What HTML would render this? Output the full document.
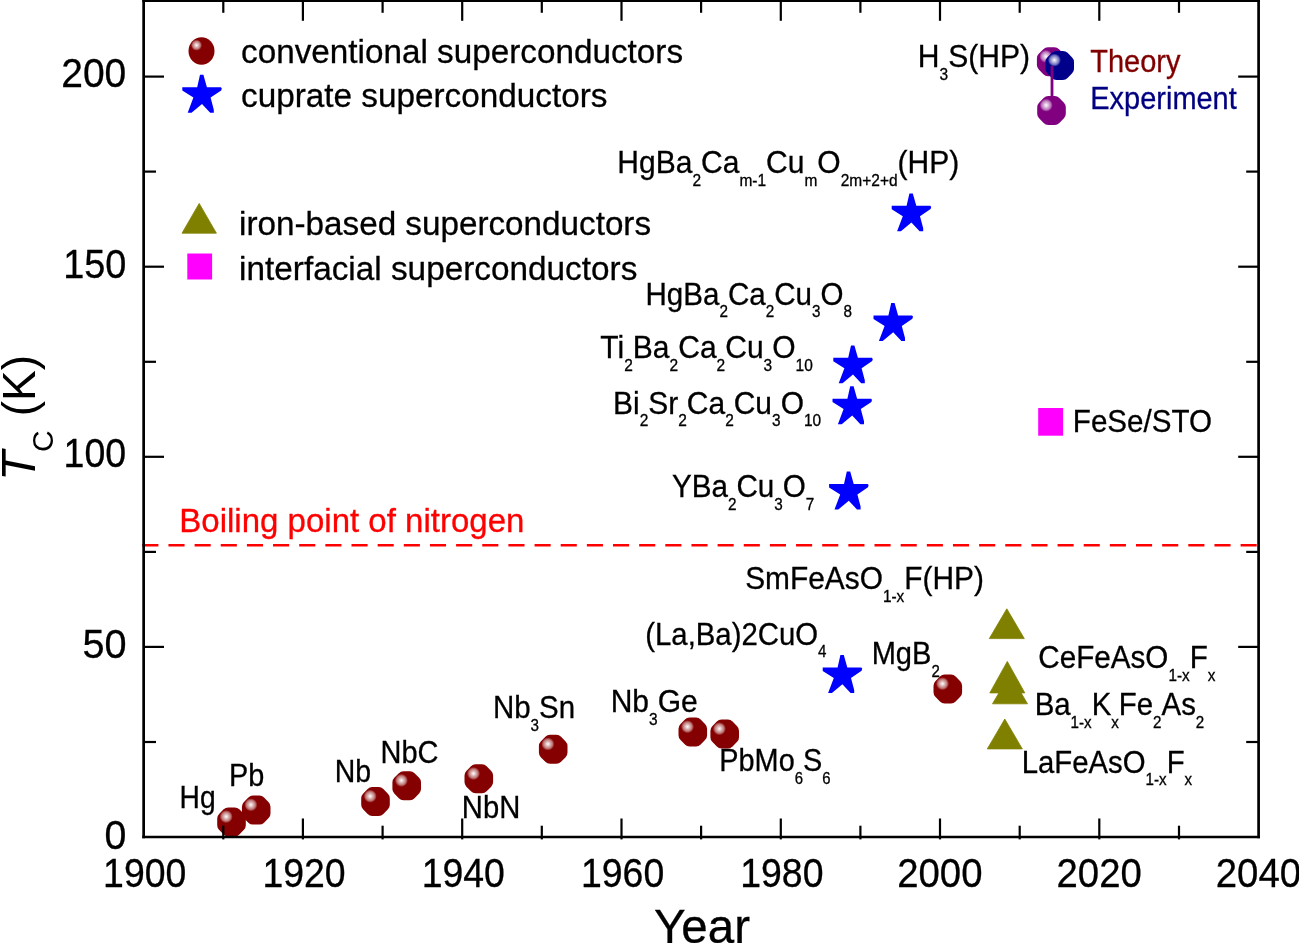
<!DOCTYPE html>
<html lang="en"><head><meta charset="utf-8"><title>Superconductor Tc timeline</title>
<style>html,body{margin:0;padding:0;background:#fff}svg{display:block}</style></head>
<body>
<svg width="1299" height="943" viewBox="0 0 1299 943" font-family='"Liberation Sans", sans-serif'>
<defs><radialGradient id="hl"><stop offset="0" stop-color="#fff" stop-opacity="1"/><stop offset="0.25" stop-color="#fff" stop-opacity="0.8"/><stop offset="0.7" stop-color="#fff" stop-opacity="0.45"/><stop offset="1" stop-color="#fff" stop-opacity="0"/></radialGradient></defs>
<rect width="1299" height="943" fill="#fff"/>
<line x1="142.3" y1="545.3" x2="1257.5" y2="545.3" stroke="#ff0000" stroke-width="2.5" stroke-dasharray="16.1 10.05"/>
<g><polygon points="228.3,813.9 234.7,813.9 239.3,818.6 239.3,825.2 234.7,829.9 228.3,829.9 223.7,825.2 223.7,818.6" fill="#850000" stroke="#850000" stroke-width="13" stroke-linejoin="round"/><circle cx="226.2" cy="816.6" r="6.6" fill="url(#hl)"/><polygon points="253.0,802.1 259.4,802.1 264.0,806.8 264.0,813.4 259.4,818.1 253.0,818.1 248.4,813.4 248.4,806.8" fill="#850000" stroke="#850000" stroke-width="13" stroke-linejoin="round"/><circle cx="250.9" cy="804.8" r="6.6" fill="url(#hl)"/><polygon points="372.3,793.5 378.7,793.5 383.3,798.2 383.3,804.8 378.7,809.5 372.3,809.5 367.7,804.8 367.7,798.2" fill="#850000" stroke="#850000" stroke-width="13" stroke-linejoin="round"/><circle cx="370.2" cy="796.2" r="6.6" fill="url(#hl)"/><polygon points="403.5,777.7 409.9,777.7 414.5,782.4 414.5,789.0 409.9,793.7 403.5,793.7 398.9,789.0 398.9,782.4" fill="#850000" stroke="#850000" stroke-width="13" stroke-linejoin="round"/><circle cx="401.4" cy="780.4" r="6.6" fill="url(#hl)"/><polygon points="475.6,770.8 482.0,770.8 486.6,775.5 486.6,782.1 482.0,786.8 475.6,786.8 471.0,782.1 471.0,775.5" fill="#850000" stroke="#850000" stroke-width="13" stroke-linejoin="round"/><circle cx="473.5" cy="773.5" r="6.6" fill="url(#hl)"/><polygon points="550.0,741.3 556.4,741.3 561.0,746.0 561.0,752.6 556.4,757.3 550.0,757.3 545.4,752.6 545.4,746.0" fill="#850000" stroke="#850000" stroke-width="13" stroke-linejoin="round"/><circle cx="547.9" cy="744.0" r="6.6" fill="url(#hl)"/><polygon points="689.6,724.0 696.0,724.0 700.6,728.7 700.6,735.3 696.0,740.0 689.6,740.0 685.0,735.3 685.0,728.7" fill="#850000" stroke="#850000" stroke-width="13" stroke-linejoin="round"/><circle cx="687.5" cy="726.7" r="6.6" fill="url(#hl)"/><polygon points="721.5,726.0 727.9,726.0 732.5,730.7 732.5,737.3 727.9,742.0 721.5,742.0 716.9,737.3 716.9,730.7" fill="#850000" stroke="#850000" stroke-width="13" stroke-linejoin="round"/><circle cx="719.4" cy="728.7" r="6.6" fill="url(#hl)"/><polygon points="944.6,681.0 951.0,681.0 955.6,685.7 955.6,692.3 951.0,697.0 944.6,697.0 940.0,692.3 940.0,685.7" fill="#850000" stroke="#850000" stroke-width="13" stroke-linejoin="round"/><circle cx="942.5" cy="683.7" r="6.6" fill="url(#hl)"/></g>
<ellipse cx="201.5" cy="51" rx="13" ry="13.8" fill="#850000"/><circle cx="196.5" cy="45.2" r="5.6" fill="url(#hl)"/><g><polygon points="200.0,74.8 203.4,74.8 206.9,87.2 220.8,87.2 221.8,88.3 221.2,90.5 210.6,97.6 213.8,109.7 213.8,112.7 210.2,112.7 202.0,104.0 191.5,112.7 187.7,112.7 193.4,97.6 182.3,90.6 182.3,87.2 197.2,87.2" fill="#0000ff"/><polygon points="909.4,193.4 912.8,193.4 916.3,205.8 930.2,205.8 931.2,206.9 930.6,209.1 920.0,216.2 923.2,228.3 923.2,231.3 919.6,231.3 911.4,222.6 900.9,231.3 897.1,231.3 902.8,216.2 891.7,209.2 891.7,205.8 906.6,205.8" fill="#0000ff"/><polygon points="891.2,303.1 894.6,303.1 898.1,315.5 912.0,315.5 913.0,316.6 912.4,318.8 901.8,325.9 905.0,338.0 905.0,341.0 901.4,341.0 893.2,332.3 882.7,341.0 878.9,341.0 884.6,325.9 873.5,318.9 873.5,315.5 888.4,315.5" fill="#0000ff"/><polygon points="851.0,345.4 854.4,345.4 857.9,357.8 871.8,357.8 872.8,358.9 872.2,361.1 861.6,368.2 864.8,380.3 864.8,383.3 861.2,383.3 853.0,374.6 842.5,383.3 838.7,383.3 844.4,368.2 833.3,361.2 833.3,357.8 848.2,357.8" fill="#0000ff"/><polygon points="850.2,386.3 853.6,386.3 857.1,398.7 871.0,398.7 872.0,399.8 871.4,402.0 860.8,409.1 864.0,421.2 864.0,424.2 860.4,424.2 852.2,415.5 841.7,424.2 837.9,424.2 843.6,409.1 832.5,402.1 832.5,398.7 847.4,398.7" fill="#0000ff"/><polygon points="846.8,471.6 850.2,471.6 853.7,484.0 867.6,484.0 868.6,485.1 868.0,487.3 857.4,494.4 860.6,506.5 860.6,509.5 857.0,509.5 848.8,500.8 838.3,509.5 834.5,509.5 840.2,494.4 829.1,487.4 829.1,484.0 844.0,484.0" fill="#0000ff"/><polygon points="840.4,655.1 843.8,655.1 847.3,667.5 861.2,667.5 862.2,668.6 861.6,670.8 851.0,677.9 854.2,690.0 854.2,693.0 850.6,693.0 842.4,684.3 831.9,693.0 828.1,693.0 833.8,677.9 822.7,670.9 822.7,667.5 837.6,667.5" fill="#0000ff"/></g>
<g><polygon points="199.2,203.4 216.4,233.2 182.0,233.2" fill="#808000" stroke="#808000" stroke-width="0.8"/><polygon points="1006.8,608.8 1024.3,638.6 989.3,638.6" fill="#808000" stroke="#808000" stroke-width="0.8"/><polygon points="1007.3,661.4 1024.8,692.9 989.8,692.9" fill="#808000" stroke="#808000" stroke-width="0.8"/><polygon points="1010.0,674.0 1027.5,703.8 992.5,703.8" fill="#808000" stroke="#808000" stroke-width="0.8"/><polygon points="1004.8,719.0 1022.3,748.9 987.3,748.9" fill="#808000" stroke="#808000" stroke-width="0.8"/></g>
<rect x="187.3" y="253.5" width="24.8" height="26" fill="#ff00ff"/><rect x="1038.2" y="408.0" width="24.9" height="27.7" fill="#ff00ff"/>
<polygon points="1048.0,53.7 1054.4,53.7 1059.0,58.4 1059.0,65.0 1054.4,69.7 1048.0,69.7 1043.4,65.0 1043.4,58.4" fill="#800080" stroke="#800080" stroke-width="13" stroke-linejoin="round"/><circle cx="1045.9" cy="56.4" r="6.6" fill="url(#hl)"/><polygon points="1056.5,57.4 1062.9,57.4 1067.5,62.1 1067.5,68.7 1062.9,73.4 1056.5,73.4 1051.9,68.7 1051.9,62.1" fill="#00008b" stroke="#00008b" stroke-width="13" stroke-linejoin="round"/><circle cx="1054.4" cy="60.1" r="6.6" fill="url(#hl)"/><line x1="1052" y1="66" x2="1052" y2="100" stroke="#800080" stroke-width="2.8"/><polygon points="1048.3,102.5 1054.7,102.5 1059.3,107.2 1059.3,113.8 1054.7,118.5 1048.3,118.5 1043.7,113.8 1043.7,107.2" fill="#800080" stroke="#800080" stroke-width="13" stroke-linejoin="round"/><circle cx="1046.2" cy="105.2" r="6.6" fill="url(#hl)"/>
<g stroke="#000" stroke-width="2.7" fill="none" stroke-linecap="butt"><line x1="143.65" y1="-1" x2="143.65" y2="838.35"/><line x1="1258.6" y1="-1" x2="1258.6" y2="838.35"/><line x1="142.3" y1="837.0" x2="1259.95" y2="837.0"/><line x1="142.3" y1="0.6" x2="1259.95" y2="0.6"/></g>
<g stroke="#000" stroke-width="2.2"><line x1="223.3" y1="839.4" x2="223.3" y2="825.7"/><line x1="223.3" y1="0" x2="223.3" y2="12.8"/><line x1="302.9" y1="839.4" x2="302.9" y2="818.5"/><line x1="302.9" y1="0" x2="302.9" y2="20.8"/><line x1="382.6" y1="839.4" x2="382.6" y2="825.7"/><line x1="382.6" y1="0" x2="382.6" y2="12.8"/><line x1="462.2" y1="839.4" x2="462.2" y2="818.5"/><line x1="462.2" y1="0" x2="462.2" y2="20.8"/><line x1="541.8" y1="839.4" x2="541.8" y2="825.7"/><line x1="541.8" y1="0" x2="541.8" y2="12.8"/><line x1="621.5" y1="839.4" x2="621.5" y2="818.5"/><line x1="621.5" y1="0" x2="621.5" y2="20.8"/><line x1="701.1" y1="839.4" x2="701.1" y2="825.7"/><line x1="701.1" y1="0" x2="701.1" y2="12.8"/><line x1="780.8" y1="839.4" x2="780.8" y2="818.5"/><line x1="780.8" y1="0" x2="780.8" y2="20.8"/><line x1="860.4" y1="839.4" x2="860.4" y2="825.7"/><line x1="860.4" y1="0" x2="860.4" y2="12.8"/><line x1="940.0" y1="839.4" x2="940.0" y2="818.5"/><line x1="940.0" y1="0" x2="940.0" y2="20.8"/><line x1="1019.7" y1="839.4" x2="1019.7" y2="825.7"/><line x1="1019.7" y1="0" x2="1019.7" y2="12.8"/><line x1="1099.3" y1="839.4" x2="1099.3" y2="818.5"/><line x1="1099.3" y1="0" x2="1099.3" y2="20.8"/><line x1="1179.0" y1="839.4" x2="1179.0" y2="825.7"/><line x1="1179.0" y1="0" x2="1179.0" y2="12.8"/><line x1="143.65" y1="742.0" x2="156.0" y2="742.0"/><line x1="1258.6" y1="742.0" x2="1246.2" y2="742.0"/><line x1="143.65" y1="646.9" x2="164.0" y2="646.9"/><line x1="1258.6" y1="646.9" x2="1238.2" y2="646.9"/><line x1="143.65" y1="551.9" x2="156.0" y2="551.9"/><line x1="1258.6" y1="551.9" x2="1246.2" y2="551.9"/><line x1="143.65" y1="456.8" x2="164.0" y2="456.8"/><line x1="1258.6" y1="456.8" x2="1238.2" y2="456.8"/><line x1="143.65" y1="361.8" x2="156.0" y2="361.8"/><line x1="1258.6" y1="361.8" x2="1246.2" y2="361.8"/><line x1="143.65" y1="266.7" x2="164.0" y2="266.7"/><line x1="1258.6" y1="266.7" x2="1238.2" y2="266.7"/><line x1="143.65" y1="171.6" x2="156.0" y2="171.6"/><line x1="1258.6" y1="171.6" x2="1246.2" y2="171.6"/><line x1="143.65" y1="76.6" x2="164.0" y2="76.6"/><line x1="1258.6" y1="76.6" x2="1238.2" y2="76.6"/></g>
<g transform="translate(241.04,62.80) scale(1.0086,1.0)"><text font-size="33" fill="#000" stroke="#000" stroke-width="0.3">conventional superconductors</text></g>
<g transform="translate(241.04,107.40) scale(1.0091,1.0)"><text font-size="33" fill="#000" stroke="#000" stroke-width="0.3">cuprate superconductors</text></g>
<g transform="translate(239.08,235.00) scale(1.0076,1.0)"><text font-size="33" fill="#000" stroke="#000" stroke-width="0.3">iron-based superconductors</text></g>
<g transform="translate(239.08,279.60) scale(1.0101,1.0)"><text font-size="33" fill="#000" stroke="#000" stroke-width="0.3">interfacial superconductors</text></g>
<g transform="translate(917.87,67.00) scale(0.9708,1.04)"><text font-size="31" fill="#000" stroke="#000" stroke-width="0.3">H<tspan dy="12.3" font-size="16">3</tspan><tspan dy="-12.3">S(HP)</tspan></text></g>
<g transform="translate(1090.23,72.00) scale(0.9354,1.009)"><text font-size="31" fill="#800000" stroke="#800000" stroke-width="0.3">Theory</text></g>
<g transform="translate(1090.26,109.40) scale(0.9348,1.005)"><text font-size="31" fill="#000080" stroke="#000080" stroke-width="0.3">Experiment</text></g>
<g transform="translate(617.28,173.30) scale(0.9689,1.032)"><text font-size="31" fill="#000" stroke="#000" stroke-width="0.3">HgBa<tspan dy="12.3" font-size="16">2</tspan><tspan dy="-12.3">Ca</tspan><tspan dy="12.3" font-size="16">m-1</tspan><tspan dy="-12.3">Cu</tspan><tspan dy="12.3" font-size="16">m</tspan><tspan dy="-12.3">O</tspan><tspan dy="12.3" font-size="16">2m+2+d</tspan><tspan dy="-12.3">(HP)</tspan></text></g>
<g transform="translate(645.51,304.70) scale(0.9541,1.036)"><text font-size="31" fill="#000" stroke="#000" stroke-width="0.3">HgBa<tspan dy="12.3" font-size="16">2</tspan><tspan dy="-12.3">Ca</tspan><tspan dy="12.3" font-size="16">2</tspan><tspan dy="-12.3">Cu</tspan><tspan dy="12.3" font-size="16">3</tspan><tspan dy="-12.3">O</tspan><tspan dy="12.3" font-size="16">8</tspan></text></g>
<g transform="translate(600.32,357.90) scale(0.9691,1.038)"><text font-size="31" fill="#000" stroke="#000" stroke-width="0.3">Ti<tspan dy="12.3" font-size="16">2</tspan><tspan dy="-12.3">Ba</tspan><tspan dy="12.3" font-size="16">2</tspan><tspan dy="-12.3">Ca</tspan><tspan dy="12.3" font-size="16">2</tspan><tspan dy="-12.3">Cu</tspan><tspan dy="12.3" font-size="16">3</tspan><tspan dy="-12.3">O</tspan><tspan dy="12.3" font-size="16">10</tspan></text></g>
<g transform="translate(613.08,413.60) scale(0.9663,1.038)"><text font-size="31" fill="#000" stroke="#000" stroke-width="0.3">Bi<tspan dy="12.3" font-size="16">2</tspan><tspan dy="-12.3">Sr</tspan><tspan dy="12.3" font-size="16">2</tspan><tspan dy="-12.3">Ca</tspan><tspan dy="12.3" font-size="16">2</tspan><tspan dy="-12.3">Cu</tspan><tspan dy="12.3" font-size="16">3</tspan><tspan dy="-12.3">O</tspan><tspan dy="12.3" font-size="16">10</tspan></text></g>
<g transform="translate(671.92,497.00) scale(0.9557,1.04)"><text font-size="31" fill="#000" stroke="#000" stroke-width="0.3">YBa<tspan dy="12.3" font-size="16">2</tspan><tspan dy="-12.3">Cu</tspan><tspan dy="12.3" font-size="16">3</tspan><tspan dy="-12.3">O</tspan><tspan dy="12.3" font-size="16">7</tspan></text></g>
<g transform="translate(1072.81,432.40) scale(0.9549,1.039)"><text font-size="31" fill="#000" stroke="#000" stroke-width="0.3">FeSe/STO</text></g>
<g transform="translate(179.30,531.80) scale(1.0010,1.002)"><text font-size="33" fill="#ff0000" stroke="#ff0000" stroke-width="0.3">Boiling point of nitrogen</text></g>
<g transform="translate(745.20,589.10) scale(0.9634,1.037)"><text font-size="31" fill="#000" stroke="#000" stroke-width="0.3">SmFeAsO<tspan dy="12.3" font-size="16">1-x</tspan><tspan dy="-12.3">F(HP)</tspan></text></g>
<g transform="translate(645.24,644.50) scale(0.9467,1.038)"><text font-size="31" fill="#000" stroke="#000" stroke-width="0.3">(La,Ba)2CuO<tspan dy="12.3" font-size="16">4</tspan></text></g>
<g transform="translate(871.65,664.00) scale(0.9381,1.039)"><text font-size="31" fill="#000" stroke="#000" stroke-width="0.3">MgB<tspan dy="12.3" font-size="16">2</tspan></text></g>
<g transform="translate(1038.27,668.10) scale(0.9564,1.028)"><text font-size="31" fill="#000" stroke="#000" stroke-width="0.3">CeFeAsO<tspan dy="12.3" font-size="16">1-x</tspan><tspan dy="-12.3">F</tspan><tspan dy="12.3" font-size="16">x</tspan></text></g>
<g transform="translate(1034.63,715.30) scale(0.9479,1.03)"><text font-size="31" fill="#000" stroke="#000" stroke-width="0.3">Ba<tspan dy="12.3" font-size="16">1-x</tspan><tspan dy="-12.3">K</tspan><tspan dy="12.3" font-size="16">x</tspan><tspan dy="-12.3">Fe</tspan><tspan dy="12.3" font-size="16">2</tspan><tspan dy="-12.3">As</tspan><tspan dy="12.3" font-size="16">2</tspan></text></g>
<g transform="translate(1021.63,772.80) scale(0.9470,1.028)"><text font-size="31" fill="#000" stroke="#000" stroke-width="0.3">LaFeAsO<tspan dy="12.3" font-size="16">1-x</tspan><tspan dy="-12.3">F</tspan><tspan dy="12.3" font-size="16">x</tspan></text></g>
<g transform="translate(610.68,712.30) scale(0.9681,1.031)"><text font-size="31" fill="#000" stroke="#000" stroke-width="0.3">Nb<tspan dy="12.3" font-size="16">3</tspan><tspan dy="-12.3">Ge</tspan></text></g>
<g transform="translate(719.27,771.30) scale(0.9316,1.037)"><text font-size="31" fill="#000" stroke="#000" stroke-width="0.3">PbMo<tspan dy="12.3" font-size="16">6</tspan><tspan dy="-12.3">S</tspan><tspan dy="12.3" font-size="16">6</tspan></text></g>
<g transform="translate(492.92,717.90) scale(0.9512,1.031)"><text font-size="31" fill="#000" stroke="#000" stroke-width="0.3">Nb<tspan dy="12.3" font-size="16">3</tspan><tspan dy="-12.3">Sn</tspan></text></g>
<g transform="translate(461.84,817.80) scale(0.9432,1.035)"><text font-size="31" fill="#000" stroke="#000" stroke-width="0.3">NbN</text></g>
<g transform="translate(380.46,763.10) scale(0.9350,1.035)"><text font-size="31" fill="#000" stroke="#000" stroke-width="0.3">NbC</text></g>
<g transform="translate(334.71,782.00) scale(0.9167,1.026)"><text font-size="31" fill="#000" stroke="#000" stroke-width="0.3">Nb</text></g>
<g transform="translate(229.07,786.20) scale(0.9314,1.026)"><text font-size="31" fill="#000" stroke="#000" stroke-width="0.3">Pb</text></g>
<g transform="translate(179.62,808.10) scale(0.9106,1.026)"><text font-size="31" fill="#000" stroke="#000" stroke-width="0.3">Hg</text></g>
<g transform="translate(103.11,887.00) scale(0.9600,1.04)"><text font-size="39" fill="#000" stroke="#000" stroke-width="0.3">1900</text></g>
<g transform="translate(262.39,887.00) scale(0.9600,1.04)"><text font-size="39" fill="#000" stroke="#000" stroke-width="0.3">1920</text></g>
<g transform="translate(421.67,887.00) scale(0.9600,1.04)"><text font-size="39" fill="#000" stroke="#000" stroke-width="0.3">1940</text></g>
<g transform="translate(580.95,887.00) scale(0.9600,1.04)"><text font-size="39" fill="#000" stroke="#000" stroke-width="0.3">1960</text></g>
<g transform="translate(740.22,887.00) scale(0.9600,1.04)"><text font-size="39" fill="#000" stroke="#000" stroke-width="0.3">1980</text></g>
<g transform="translate(897.22,887.00) scale(0.9832,1.04)"><text font-size="39" fill="#000" stroke="#000" stroke-width="0.3">2000</text></g>
<g transform="translate(1056.50,887.00) scale(0.9832,1.04)"><text font-size="39" fill="#000" stroke="#000" stroke-width="0.3">2020</text></g>
<g transform="translate(1215.78,887.00) scale(0.9832,1.04)"><text font-size="39" fill="#000" stroke="#000" stroke-width="0.3">2040</text></g>
<g transform="translate(104.39,848.70) scale(1.0080,1.04)"><text font-size="39" fill="#000" stroke="#000" stroke-width="0.3">0</text></g>
<g transform="translate(82.47,658.40) scale(1.0173,1.04)"><text font-size="39" fill="#000" stroke="#000" stroke-width="0.3">50</text></g>
<g transform="translate(63.55,467.40) scale(0.9623,1.04)"><text font-size="39" fill="#000" stroke="#000" stroke-width="0.3">100</text></g>
<g transform="translate(63.13,277.70) scale(0.9721,1.04)"><text font-size="39" fill="#000" stroke="#000" stroke-width="0.3">150</text></g>
<g transform="translate(61.25,87.40) scale(1.0000,1.04)"><text font-size="39" fill="#000" stroke="#000" stroke-width="0.3">200</text></g>
<g transform="translate(654.01,943.30) scale(0.9900,1.013)"><text font-size="48" fill="#000" stroke="#000" stroke-width="0.3">Year</text></g>
<g transform="translate(35.4,481) rotate(-90)"><text font-size="46" fill="#000"><tspan font-style="italic" font-size="49">T</tspan><tspan font-size="30" x="29" dy="17.6">C</tspan><tspan x="52" dy="-17.6"> (K)</tspan></text></g>
</svg>
</body></html>
